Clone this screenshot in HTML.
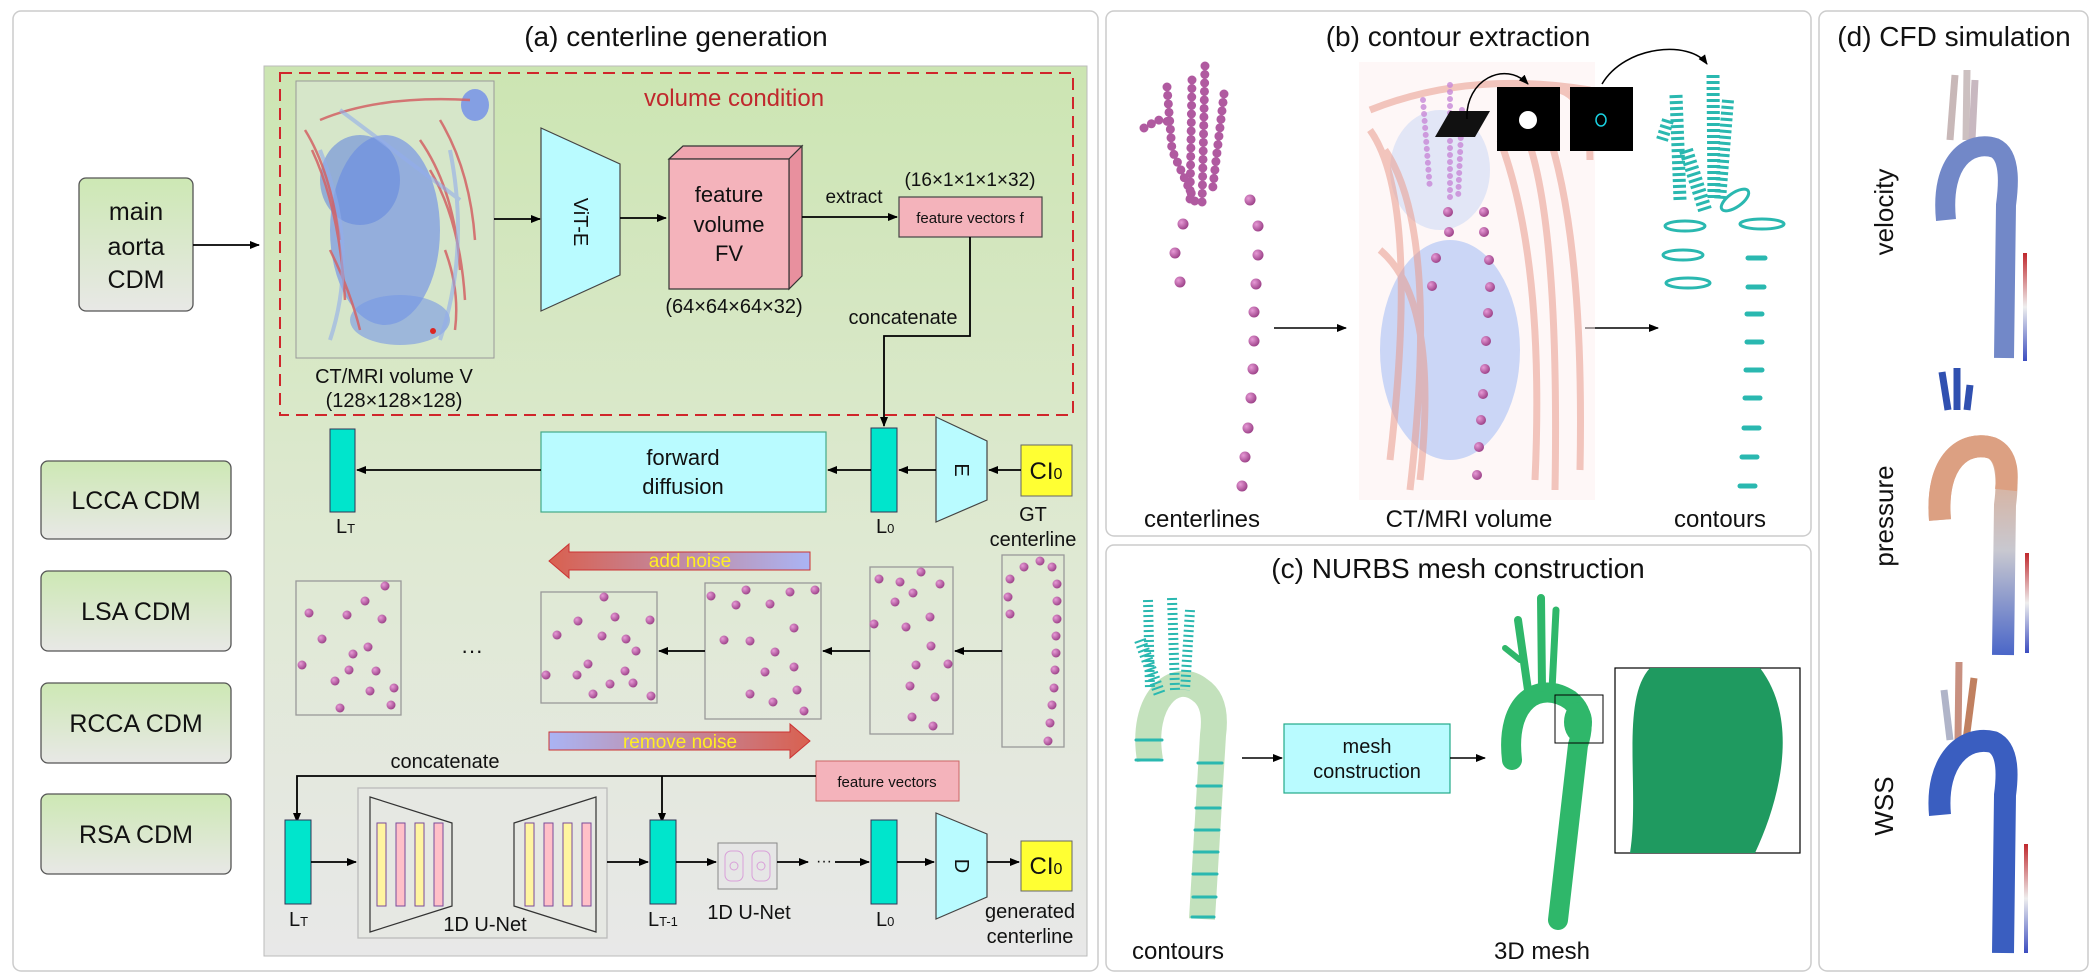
<!DOCTYPE html>
<html><head><meta charset="utf-8"><style>
html,body{margin:0;padding:0;background:#fff;}
svg{display:block;font-family:"Liberation Sans",sans-serif;}
</style></head><body>
<svg width="2093" height="975" viewBox="0 0 2093 975" xmlns="http://www.w3.org/2000/svg">
<defs>
<marker id="ah" markerWidth="10" markerHeight="8" refX="9" refY="4" orient="auto" markerUnits="userSpaceOnUse"><path d="M0,0 L10,4 L0,8 Z" fill="#000"/></marker>
<linearGradient id="gGreen" x1="0" y1="0" x2="0" y2="1"><stop offset="0" stop-color="#cce5b2"/><stop offset="0.55" stop-color="#dfe9d3"/><stop offset="1" stop-color="#e8e8e8"/></linearGradient>
<linearGradient id="gCdm" x1="0" y1="0" x2="0" y2="1"><stop offset="0" stop-color="#cde8b4"/><stop offset="1" stop-color="#e8e8e6"/></linearGradient>
<linearGradient id="gAdd" x1="0" y1="0" x2="1" y2="0"><stop offset="0" stop-color="#d9604f"/><stop offset="1" stop-color="#aab4f4"/></linearGradient>
<linearGradient id="gRem" x1="0" y1="0" x2="1" y2="0"><stop offset="0" stop-color="#aab4f4"/><stop offset="1" stop-color="#d9604f"/></linearGradient>
<linearGradient id="gBar" x1="0" y1="0" x2="0" y2="1"><stop offset="0" stop-color="#c0282d"/><stop offset="0.5" stop-color="#eeeeee"/><stop offset="1" stop-color="#3b4cc0"/></linearGradient>
<linearGradient id="gPres" x1="0" y1="0" x2="0" y2="1"><stop offset="0" stop-color="#e0a888"/><stop offset="0.5" stop-color="#c8c8d0"/><stop offset="1" stop-color="#4a66c8"/></linearGradient>
<radialGradient id="gDot" cx="0.35" cy="0.35" r="0.7"><stop offset="0" stop-color="#e79ad6"/><stop offset="1" stop-color="#9a3f86"/></radialGradient>
</defs>

<!-- Panel a -->
<rect x="13" y="11" width="1085" height="960" rx="8" fill="#fff" stroke="#ccc" stroke-width="1.5"/>
<text x="676" y="46" font-size="28" text-anchor="middle" fill="#111">(a) centerline generation</text>
<rect x="264" y="66" width="823" height="890" fill="url(#gGreen)" stroke="#bbb"/>
<rect x="280" y="73" width="793" height="342" fill="none" stroke="#d0262b" stroke-width="2" stroke-dasharray="12 7"/>
<text x="734" y="106" font-size="24" text-anchor="middle" fill="#c0282d">volume condition</text>

<!-- CT volume -->
<rect x="296" y="81" width="198" height="277" fill="#d6e6c9" stroke="#999"/>
<g opacity="0.9">
<ellipse cx="385" cy="230" rx="55" ry="95" fill="#6d8fe8" opacity="0.7"/>
<ellipse cx="360" cy="180" rx="40" ry="45" fill="#5a7ee0" opacity="0.6"/>
<ellipse cx="400" cy="320" rx="50" ry="25" fill="#6d8fe8" opacity="0.6"/>
<ellipse cx="475" cy="105" rx="14" ry="16" fill="#7c98e6"/>
<g stroke="#d3535a" stroke-width="2.5" fill="none" opacity="0.85">
<path d="M305,130 Q330,170 340,240"/><path d="M312,150 Q340,210 345,300"/><path d="M320,120 Q380,95 470,100"/>
<path d="M420,140 Q455,190 460,270"/><path d="M430,170 Q460,220 465,300"/><path d="M440,120 Q470,170 475,240"/>
<path d="M330,250 Q350,290 360,330"/><path d="M445,250 Q460,290 455,330"/>
</g>
<g stroke="#8aa6ee" stroke-width="4" fill="none" opacity="0.6">
<path d="M320,150 Q360,250 330,340"/><path d="M450,150 Q470,250 440,340"/><path d="M340,110 L460,200"/>
</g>
<circle cx="433" cy="331" r="3" fill="#d11"/>
</g>
<text x="394" y="383" font-size="20" text-anchor="middle" fill="#111">CT/MRI volume V</text>
<text x="394" y="407" font-size="20" text-anchor="middle" fill="#111">(128×128×128)</text>
<line x1="494" y1="219" x2="540" y2="219" stroke="#000" stroke-width="1.8" marker-end="url(#ah)"/>

<!-- ViT-E -->
<polygon points="541,128 620,164 620,275 541,311" fill="#b9fbff" stroke="#444" stroke-width="1.2"/>
<text transform="translate(574,222) rotate(90)" font-size="20" text-anchor="middle" fill="#111">ViT-E</text>
<line x1="620" y1="218" x2="666" y2="218" stroke="#000" stroke-width="1.8" marker-end="url(#ah)"/>

<!-- Feature volume -->
<polygon points="669,159 683,146 802,146 789,159" fill="#f0a5b0" stroke="#333" stroke-width="1.2"/>
<polygon points="789,159 802,146 802,276 789,289" fill="#e8909e" stroke="#333" stroke-width="1.2"/>
<rect x="669" y="159" width="120" height="130" fill="#f4b3bb" stroke="#333" stroke-width="1.2"/>
<text x="729" y="202" font-size="22" text-anchor="middle" fill="#111">feature</text>
<text x="729" y="232" font-size="22" text-anchor="middle" fill="#111">volume</text>
<text x="729" y="261" font-size="22" text-anchor="middle" fill="#111">FV</text>
<text x="734" y="313" font-size="20" text-anchor="middle" fill="#111">(64×64×64×32)</text>
<line x1="802" y1="217" x2="897" y2="217" stroke="#000" stroke-width="1.8" marker-end="url(#ah)"/>
<text x="854" y="203" font-size="19" text-anchor="middle" fill="#111">extract</text>
<text x="970" y="186" font-size="19" text-anchor="middle" fill="#111">(16×1×1×1×32)</text>
<rect x="899" y="197" width="143" height="40" fill="#f4b3bb" stroke="#444" stroke-width="1.2"/>
<text x="970" y="223" font-size="15" text-anchor="middle" fill="#111">feature vectors f</text>
<polyline points="970,237 970,336 884,336 884,426" fill="none" stroke="#000" stroke-width="1.8" marker-end="url(#ah)"/>
<text x="903" y="324" font-size="20" text-anchor="middle" fill="#111">concatenate</text>

<!-- Row 2 -->
<rect x="330" y="429" width="25" height="83" fill="#00e5cc" stroke="#335" stroke-width="1"/>
<text x="336" y="533" font-size="20" fill="#111">L<tspan font-size="13">T</tspan></text>
<rect x="541" y="432" width="285" height="80" fill="#b9fbff" stroke="#4a8" stroke-width="1.2"/>
<text x="683" y="465" font-size="22" text-anchor="middle" fill="#111">forward</text>
<text x="683" y="494" font-size="22" text-anchor="middle" fill="#111">diffusion</text>
<line x1="541" y1="470" x2="357" y2="470" stroke="#000" stroke-width="1.8" marker-end="url(#ah)"/>
<rect x="871" y="428" width="26" height="84" fill="#00e5cc" stroke="#335" stroke-width="1"/>
<text x="876" y="533" font-size="20" fill="#111">L<tspan font-size="13">0</tspan></text>
<line x1="871" y1="470" x2="828" y2="470" stroke="#000" stroke-width="1.8" marker-end="url(#ah)"/>
<polygon points="936,417 987,441 987,500 936,522" fill="#b9fbff" stroke="#444" stroke-width="1.2"/>
<text transform="translate(955,470) rotate(90)" font-size="20" text-anchor="middle" fill="#111">E</text>
<line x1="936" y1="470" x2="899" y2="470" stroke="#000" stroke-width="1.8" marker-end="url(#ah)"/>
<rect x="1021" y="445" width="51" height="51" fill="#ffff33" stroke="#666"/>
<text x="1046" y="479" font-size="24" text-anchor="middle" fill="#111">CI<tspan font-size="16">0</tspan></text>
<line x1="1021" y1="470" x2="989" y2="470" stroke="#000" stroke-width="1.8" marker-end="url(#ah)"/>
<text x="1033" y="521" font-size="20" text-anchor="middle" fill="#111">GT</text>
<text x="1033" y="546" font-size="20" text-anchor="middle" fill="#111">centerline</text>

<!-- add noise -->
<polygon points="549,561 569,544 569,552 810,552 810,570 569,570 569,578" fill="url(#gAdd)" stroke="#c33" stroke-width="1"/>
<text x="690" y="567" font-size="19" text-anchor="middle" fill="#ffee22">add noise</text>
<!-- remove noise -->
<polygon points="810,741 790,724 790,732 549,732 549,750 790,750 790,758" fill="url(#gRem)" stroke="#c33" stroke-width="1"/>
<text x="680" y="748" font-size="19" text-anchor="middle" fill="#ffee22">remove noise</text>

<!-- point boxes -->
<g fill="none" stroke="#999" stroke-width="1.3">
<rect x="296" y="581" width="105" height="134"/>
<rect x="541" y="592" width="116" height="111"/>
<rect x="705" y="583" width="116" height="136"/>
<rect x="870" y="567" width="83" height="167"/>
<rect x="1002" y="555" width="62" height="192"/>
</g>
<g fill="url(#gDot)">
<circle cx="385" cy="586" r="4.5"/><circle cx="365" cy="601" r="4.5"/><circle cx="309" cy="613" r="4.5"/><circle cx="347" cy="615" r="4.5"/><circle cx="382" cy="619" r="4.5"/><circle cx="322" cy="639" r="4.5"/><circle cx="368" cy="647" r="4.5"/><circle cx="353" cy="654" r="4.5"/><circle cx="302" cy="665" r="4.5"/><circle cx="349" cy="670" r="4.5"/><circle cx="376" cy="671" r="4.5"/><circle cx="335" cy="681" r="4.5"/><circle cx="394" cy="688" r="4.5"/><circle cx="370" cy="691" r="4.5"/><circle cx="391" cy="705" r="4.5"/><circle cx="340" cy="708" r="4.5"/>
<circle cx="604" cy="597" r="4.5"/><circle cx="578" cy="621" r="4.5"/><circle cx="615" cy="617" r="4.5"/><circle cx="650" cy="620" r="4.5"/><circle cx="557" cy="635" r="4.5"/><circle cx="602" cy="636" r="4.5"/><circle cx="626" cy="639" r="4.5"/><circle cx="636" cy="651" r="4.5"/><circle cx="588" cy="664" r="4.5"/><circle cx="546" cy="675" r="4.5"/><circle cx="577" cy="675" r="4.5"/><circle cx="625" cy="671" r="4.5"/><circle cx="633" cy="683" r="4.5"/><circle cx="610" cy="684" r="4.5"/><circle cx="593" cy="694" r="4.5"/><circle cx="651" cy="696" r="4.5"/>
<circle cx="711" cy="596" r="4.5"/><circle cx="746" cy="590" r="4.5"/><circle cx="736" cy="605" r="4.5"/><circle cx="770" cy="604" r="4.5"/><circle cx="790" cy="592" r="4.5"/><circle cx="815" cy="590" r="4.5"/><circle cx="794" cy="628" r="4.5"/><circle cx="724" cy="640" r="4.5"/><circle cx="750" cy="641" r="4.5"/><circle cx="775" cy="652" r="4.5"/><circle cx="765" cy="672" r="4.5"/><circle cx="794" cy="667" r="4.5"/><circle cx="797" cy="690" r="4.5"/><circle cx="750" cy="694" r="4.5"/><circle cx="773" cy="702" r="4.5"/><circle cx="804" cy="711" r="4.5"/>
<circle cx="879" cy="579" r="4.5"/><circle cx="900" cy="582" r="4.5"/><circle cx="921" cy="572" r="4.5"/><circle cx="940" cy="584" r="4.5"/><circle cx="913" cy="593" r="4.5"/><circle cx="895" cy="602" r="4.5"/><circle cx="930" cy="617" r="4.5"/><circle cx="874" cy="624" r="4.5"/><circle cx="906" cy="627" r="4.5"/><circle cx="931" cy="646" r="4.5"/><circle cx="916" cy="665" r="4.5"/><circle cx="948" cy="664" r="4.5"/><circle cx="910" cy="686" r="4.5"/><circle cx="935" cy="697" r="4.5"/><circle cx="912" cy="717" r="4.5"/><circle cx="933" cy="726" r="4.5"/>
<circle cx="1010" cy="579" r="4.5"/><circle cx="1008" cy="597" r="4.5"/><circle cx="1010" cy="614" r="4.5"/><circle cx="1024" cy="567" r="4.5"/><circle cx="1040" cy="561" r="4.5"/><circle cx="1052" cy="567" r="4.5"/><circle cx="1057" cy="584" r="4.5"/><circle cx="1057" cy="601" r="4.5"/><circle cx="1057" cy="619" r="4.5"/><circle cx="1056" cy="636" r="4.5"/><circle cx="1056" cy="653" r="4.5"/><circle cx="1055" cy="670" r="4.5"/><circle cx="1054" cy="688" r="4.5"/><circle cx="1052" cy="705" r="4.5"/><circle cx="1050" cy="723" r="4.5"/><circle cx="1048" cy="741" r="4.5"/>
</g>
<text x="472" y="658" font-size="22" text-anchor="middle" fill="#111">···</text>
<line x1="1002" y1="651" x2="955" y2="651" stroke="#000" stroke-width="1.8" marker-end="url(#ah)"/>
<line x1="870" y1="651" x2="823" y2="651" stroke="#000" stroke-width="1.8" marker-end="url(#ah)"/>
<line x1="705" y1="651" x2="659" y2="651" stroke="#000" stroke-width="1.8" marker-end="url(#ah)"/>

<!-- bottom row -->
<text x="445" y="768" font-size="20" text-anchor="middle" fill="#111">concatenate</text>
<rect x="816" y="761" width="143" height="40" fill="#f4b3bb" stroke="#c66" stroke-width="1"/>
<text x="887" y="787" font-size="15" text-anchor="middle" fill="#111">feature vectors</text>
<polyline points="816,776 297,776 297,822" fill="none" stroke="#000" stroke-width="1.8" marker-end="url(#ah)"/>
<line x1="662" y1="776" x2="662" y2="822" stroke="#000" stroke-width="1.8" marker-end="url(#ah)"/>
<rect x="285" y="820" width="26" height="84" fill="#00e5cc" stroke="#335" stroke-width="1"/>
<text x="289" y="926" font-size="20" fill="#111">L<tspan font-size="13">T</tspan></text>
<line x1="311" y1="862" x2="356" y2="862" stroke="#000" stroke-width="1.8" marker-end="url(#ah)"/>
<rect x="358" y="788" width="249" height="150" fill="#e6e8e3" stroke="#bbb" stroke-width="1.3"/>
<polygon points="370,797 452,823 452,906 370,932" fill="none" stroke="#333" stroke-width="1.2"/>
<polygon points="514,823 596,797 596,932 514,906" fill="none" stroke="#333" stroke-width="1.2"/>
<g stroke="#7a4a9a" stroke-width="1">
<rect x="377" y="823" width="9" height="83" fill="#fff5a0"/><rect x="396" y="823" width="9" height="83" fill="#ffc0c8"/><rect x="415" y="823" width="9" height="83" fill="#fff5a0"/><rect x="434" y="823" width="9" height="83" fill="#ffc0c8"/>
<rect x="525" y="823" width="9" height="83" fill="#fff5a0"/><rect x="544" y="823" width="9" height="83" fill="#ffc0c8"/><rect x="563" y="823" width="9" height="83" fill="#fff5a0"/><rect x="582" y="823" width="9" height="83" fill="#ffc0c8"/>
</g>
<text x="485" y="931" font-size="20" text-anchor="middle" fill="#111">1D U-Net</text>
<line x1="607" y1="862" x2="648" y2="862" stroke="#000" stroke-width="1.8" marker-end="url(#ah)"/>
<rect x="650" y="820" width="26" height="84" fill="#00e5cc" stroke="#335" stroke-width="1"/>
<text x="648" y="926" font-size="20" fill="#111">L<tspan font-size="13">T-1</tspan></text>
<line x1="676" y1="862" x2="716" y2="862" stroke="#000" stroke-width="1.8" marker-end="url(#ah)"/>
<rect x="718" y="843" width="59" height="46" fill="#e6e6e6" stroke="#888"/>
<g fill="none" stroke="#d9a0d9" stroke-width="1"><rect x="725" y="851" width="18" height="30" rx="6"/><rect x="752" y="851" width="18" height="30" rx="6"/><circle cx="734" cy="866" r="4"/><circle cx="761" cy="866" r="4"/></g>
<text x="749" y="919" font-size="20" text-anchor="middle" fill="#111">1D U-Net</text>
<line x1="777" y1="862" x2="808" y2="862" stroke="#000" stroke-width="1.8" marker-end="url(#ah)"/>
<text x="824" y="866" font-size="16" text-anchor="middle" fill="#111">···</text>
<line x1="835" y1="862" x2="869" y2="862" stroke="#000" stroke-width="1.8" marker-end="url(#ah)"/>
<rect x="871" y="820" width="26" height="84" fill="#00e5cc" stroke="#335" stroke-width="1"/>
<text x="876" y="926" font-size="20" fill="#111">L<tspan font-size="13">0</tspan></text>
<line x1="897" y1="862" x2="934" y2="862" stroke="#000" stroke-width="1.8" marker-end="url(#ah)"/>
<polygon points="936,813 987,834 987,897 936,919" fill="#b9fbff" stroke="#444" stroke-width="1.2"/>
<text transform="translate(955,866) rotate(90)" font-size="20" text-anchor="middle" fill="#111">D</text>
<line x1="987" y1="862" x2="1019" y2="862" stroke="#000" stroke-width="1.8" marker-end="url(#ah)"/>
<rect x="1021" y="841" width="51" height="50" fill="#ffff33" stroke="#666"/>
<text x="1046" y="874" font-size="24" text-anchor="middle" fill="#111">CI<tspan font-size="16">0</tspan></text>
<text x="1030" y="918" font-size="20" text-anchor="middle" fill="#111">generated</text>
<text x="1030" y="943" font-size="20" text-anchor="middle" fill="#111">centerline</text>

<!-- CDM boxes -->
<g stroke="#555" stroke-width="1.3" fill="url(#gCdm)">
<rect x="79" y="178" width="114" height="133" rx="7"/>
<rect x="41" y="461" width="190" height="78" rx="7"/>
<rect x="41" y="571" width="190" height="80" rx="7"/>
<rect x="41" y="683" width="190" height="80" rx="7"/>
<rect x="41" y="794" width="190" height="80" rx="7"/>
</g>
<g font-size="25" text-anchor="middle" fill="#111">
<text x="136" y="220">main</text><text x="136" y="255">aorta</text><text x="136" y="288">CDM</text>
<text x="136" y="509">LCCA CDM</text><text x="136" y="620">LSA CDM</text><text x="136" y="732">RCCA CDM</text><text x="136" y="843">RSA CDM</text>
</g>
<line x1="193" y1="245" x2="259" y2="245" stroke="#000" stroke-width="1.8" marker-end="url(#ah)"/>

<!-- Panel b -->
<rect x="1106" y="11" width="705" height="525" rx="8" fill="#fff" stroke="#ccc" stroke-width="1.5"/>
<text x="1458" y="46" font-size="28" text-anchor="middle" fill="#111">(b) contour extraction</text>
<g stroke="#b05aa0" stroke-width="9" stroke-linecap="round" stroke-dasharray="0 8.5" fill="none">
<path d="M1205,66 L1202,206"/><path d="M1224,94 L1212,194"/><path d="M1167,87 L1172,150 L1196,204"/><path d="M1144,128 L1158,120 L1172,122"/><path d="M1192,80 L1190,200"/>
</g>
<g fill="url(#gDot)">
<circle cx="1250" cy="200" r="5.5"/><circle cx="1258" cy="226" r="5.5"/><circle cx="1258" cy="255" r="5.5"/><circle cx="1256" cy="284" r="5.5"/><circle cx="1254" cy="312" r="5.5"/><circle cx="1254" cy="341" r="5.5"/><circle cx="1253" cy="369" r="5.5"/><circle cx="1251" cy="398" r="5.5"/><circle cx="1248" cy="428" r="5.5"/><circle cx="1245" cy="457" r="5.5"/><circle cx="1242" cy="486" r="5.5"/>
<circle cx="1183" cy="224" r="5.5"/><circle cx="1175" cy="253" r="5.5"/><circle cx="1180" cy="282" r="5.5"/>
</g>
<line x1="1274" y1="328" x2="1346" y2="328" stroke="#000" stroke-width="1.5" marker-end="url(#ah)"/>
<line x1="1585" y1="328" x2="1658" y2="328" stroke="#000" stroke-width="1.5" marker-end="url(#ah)"/>
<!-- CT volume -->
<g opacity="0.85">
<rect x="1359" y="62" width="236" height="438" fill="#fbeeee" opacity="0.6"/>
<ellipse cx="1450" cy="350" rx="70" ry="110" fill="#a9bff5" opacity="0.7"/>
<ellipse cx="1440" cy="170" rx="50" ry="60" fill="#c8d4f4" opacity="0.6"/>
<g stroke="#e58a78" stroke-width="7" fill="none" opacity="0.55">
<path d="M1370,130 Q1420,200 1390,460"/><path d="M1385,150 Q1440,230 1410,490"/><path d="M1520,120 Q1560,200 1555,490"/><path d="M1540,110 Q1585,220 1580,470"/><path d="M1370,110 Q1470,70 1590,90"/><path d="M1500,140 Q1545,260 1535,480"/><path d="M1380,250 Q1440,300 1420,480"/><path d="M1560,90 Q1590,100 1590,160"/>
</g>
</g>
<g fill="url(#gDot)">
<circle cx="1448" cy="212" r="5"/><circle cx="1484" cy="212" r="5"/><circle cx="1449" cy="232" r="5"/><circle cx="1484" cy="232" r="5"/><circle cx="1436" cy="258" r="5"/><circle cx="1489" cy="260" r="5"/><circle cx="1432" cy="286" r="5"/><circle cx="1490" cy="287" r="5"/><circle cx="1488" cy="313" r="5"/><circle cx="1486" cy="341" r="5"/><circle cx="1485" cy="369" r="5"/><circle cx="1483" cy="394" r="5"/><circle cx="1481" cy="420" r="5"/><circle cx="1479" cy="447" r="5"/><circle cx="1477" cy="475" r="5"/>
</g>
<g stroke="#c888d8" stroke-width="6" stroke-linecap="round" stroke-dasharray="0 7" fill="none" opacity="0.8"><path d="M1423,100 L1430,190"/><path d="M1450,85 L1450,200"/><path d="M1462,110 L1458,200"/></g>
<polygon points="1435,137 1450,111 1490,111 1475,137" fill="#111"/>
<rect x="1497" y="87" width="63" height="64" fill="#000"/><circle cx="1528" cy="120" r="9" fill="#fff"/>
<rect x="1570" y="87" width="63" height="64" fill="#000"/><ellipse cx="1601" cy="120" rx="5" ry="6" fill="none" stroke="#1ad0e0" stroke-width="1.5"/>
<path d="M1467,119 C1465,80 1505,60 1528,84" fill="none" stroke="#000" stroke-width="1.5" marker-end="url(#ah)"/>
<path d="M1602,84 C1625,45 1690,40 1707,64" fill="none" stroke="#000" stroke-width="1.5" marker-end="url(#ah)"/>
<!-- contours -->
<g stroke="#2ab8b0" fill="none">
<path d="M1713,75 L1714,200" stroke-width="13" stroke-dasharray="3 3"/>
<path d="M1676,95 L1680,200" stroke-width="13" stroke-dasharray="3 3"/>
<path d="M1728,100 L1720,200" stroke-width="12" stroke-dasharray="3 3"/>
<path d="M1686,150 L1705,210" stroke-width="14" stroke-dasharray="3 3"/>
<path d="M1668,120 L1662,140" stroke-width="12" stroke-dasharray="3 3"/>
<ellipse cx="1685" cy="226" rx="20" ry="5" stroke-width="3"/><ellipse cx="1683" cy="255" rx="20" ry="5" stroke-width="3"/><ellipse cx="1688" cy="283" rx="22" ry="5" stroke-width="3"/>
<ellipse cx="1735" cy="200" rx="16" ry="7" stroke-width="3" transform="rotate(-35 1735 200)"/><ellipse cx="1762" cy="224" rx="22" ry="5" stroke-width="3"/>
</g>
<g stroke="#2ab8b0" stroke-width="5" stroke-linecap="round">
<line x1="1748" y1="258" x2="1765" y2="258"/><line x1="1748" y1="287" x2="1764" y2="287"/><line x1="1747" y1="314" x2="1762" y2="314"/><line x1="1747" y1="342" x2="1762" y2="342"/><line x1="1746" y1="370" x2="1762" y2="370"/><line x1="1745" y1="398" x2="1760" y2="398"/><line x1="1744" y1="428" x2="1759" y2="428"/><line x1="1742" y1="457" x2="1757" y2="457"/><line x1="1740" y1="486" x2="1755" y2="486"/>
</g>
<g font-size="24" text-anchor="middle" fill="#111">
<text x="1202" y="527">centerlines</text><text x="1469" y="527">CT/MRI volume</text><text x="1720" y="527">contours</text>
</g>

<!-- Panel c -->
<rect x="1106" y="545" width="705" height="426" rx="8" fill="#fff" stroke="#ccc" stroke-width="1.5"/>
<text x="1458" y="578" font-size="28" text-anchor="middle" fill="#111">(c) NURBS mesh construction</text>
<path d="M1150,760 C1140,700 1175,670 1200,690 C1215,700 1215,720 1213,735 L1202,919" fill="none" stroke="#b8dcb0" stroke-width="26" opacity="0.85"/>
<g stroke="#2ab8b0" fill="none">
<path d="M1148,600 L1150,690" stroke-width="10" stroke-dasharray="2 3"/><path d="M1172,598 L1175,690" stroke-width="10" stroke-dasharray="2 3"/><path d="M1190,610 L1185,690" stroke-width="10" stroke-dasharray="2 3"/><path d="M1140,640 L1160,695" stroke-width="12" stroke-dasharray="2 3"/>
</g>
<g stroke="#2ab8b0" stroke-width="3" stroke-linecap="round">
<line x1="1198" y1="763" x2="1222" y2="763"/><line x1="1197" y1="786" x2="1221" y2="786"/><line x1="1196" y1="808" x2="1220" y2="808"/><line x1="1195" y1="830" x2="1219" y2="830"/><line x1="1194" y1="852" x2="1218" y2="852"/><line x1="1193" y1="874" x2="1217" y2="874"/><line x1="1193" y1="897" x2="1216" y2="897"/><line x1="1192" y1="917" x2="1214" y2="917"/>
<line x1="1136" y1="740" x2="1162" y2="740"/><line x1="1136" y1="760" x2="1162" y2="760"/>
</g>
<line x1="1242" y1="758" x2="1282" y2="758" stroke="#000" stroke-width="1.5" marker-end="url(#ah)"/>
<rect x="1284" y="724" width="166" height="69" fill="#b9fbff" stroke="#2a8" stroke-width="1.2"/>
<text x="1367" y="753" font-size="20" text-anchor="middle" fill="#111">mesh</text>
<text x="1367" y="778" font-size="20" text-anchor="middle" fill="#111">construction</text>
<line x1="1450" y1="758" x2="1485" y2="758" stroke="#000" stroke-width="1.5" marker-end="url(#ah)"/>
<g fill="none" stroke="#2fb76a" stroke-linecap="round">
<path d="M1512,760 C1505,700 1540,680 1570,700 C1585,712 1583,730 1578,745 L1558,920" stroke-width="20"/>
<path d="M1528,690 L1518,620" stroke-width="8"/><path d="M1542,688 L1541,598" stroke-width="8"/><path d="M1552,690 L1556,610" stroke-width="7"/><path d="M1520,660 L1505,648" stroke-width="6"/>
</g>
<ellipse cx="1578" cy="722" rx="14" ry="20" fill="#2fb76a"/>
<rect x="1555" y="695" width="48" height="48" fill="none" stroke="#000" stroke-width="1"/>
<rect x="1615" y="668" width="185" height="185" fill="#fff" stroke="#000" stroke-width="1.2"/>
<path d="M1630,853 C1640,790 1620,700 1650,668 L1760,668 C1800,720 1780,800 1755,853 Z" fill="#1f9a60"/>
<g font-size="24" text-anchor="middle" fill="#111"><text x="1178" y="959">contours</text><text x="1542" y="959">3D mesh</text></g>

<!-- Panel d -->
<rect x="1819" y="11" width="269" height="960" rx="8" fill="#fff" stroke="#ccc" stroke-width="1.5"/>
<text x="1954" y="46" font-size="28" text-anchor="middle" fill="#111">(d) CFD simulation</text>
<g font-size="26" text-anchor="middle" fill="#111">
<text transform="translate(1893,212) rotate(-90)">velocity</text>
<text transform="translate(1893,516) rotate(-90)">pressure</text>
<text transform="translate(1893,806) rotate(-90)">WSS</text>
</g>
<!-- velocity -->
<g fill="none" stroke-linecap="butt">
<path d="M1955,75 L1950,140" stroke="#c8b8b8" stroke-width="7"/><path d="M1967,70 L1966,140" stroke="#ccc0c0" stroke-width="7"/><path d="M1975,80 L1972,140" stroke="#c8b8c0" stroke-width="7"/>
<path d="M1946,220 C1940,160 1970,140 1995,148 C2012,156 2008,190 2006,205 L2004,358" stroke="#7288c8" stroke-width="20"/>
</g>
<rect x="2023" y="253" width="4" height="108" fill="url(#gBar)"/>
<!-- pressure -->
<g fill="none">
<path d="M1948,410 L1942,372" stroke="#3050b0" stroke-width="7"/><path d="M1957,410 L1957,368" stroke="#3050b0" stroke-width="7"/><path d="M1967,410 L1970,385" stroke="#3050b0" stroke-width="7"/>
<path d="M1940,520 C1935,460 1965,440 1992,448 C2010,456 2007,490 2005,505 L2003,655" stroke="url(#gPres)" stroke-width="22"/>
<path d="M1940,520 C1935,460 1965,440 1992,448 C2010,456 2007,480 2006,490" stroke="#dca082" stroke-width="22"/>
</g>
<rect x="2025" y="553" width="4" height="100" fill="url(#gBar)"/>
<!-- WSS -->
<g fill="none">
<path d="M1950,740 L1944,690" stroke="#b0b4c8" stroke-width="7"/><path d="M1958,740 L1959,662" stroke="#c89080" stroke-width="7"/><path d="M1966,740 L1974,678" stroke="#c08060" stroke-width="7"/>
<path d="M1940,815 C1935,760 1965,735 1993,742 C2010,750 2007,780 2005,795 L2003,953" stroke="#3a5ec0" stroke-width="22"/>
</g>
<rect x="2024" y="844" width="4" height="109" fill="url(#gBar)"/>
</svg>
</body></html>
